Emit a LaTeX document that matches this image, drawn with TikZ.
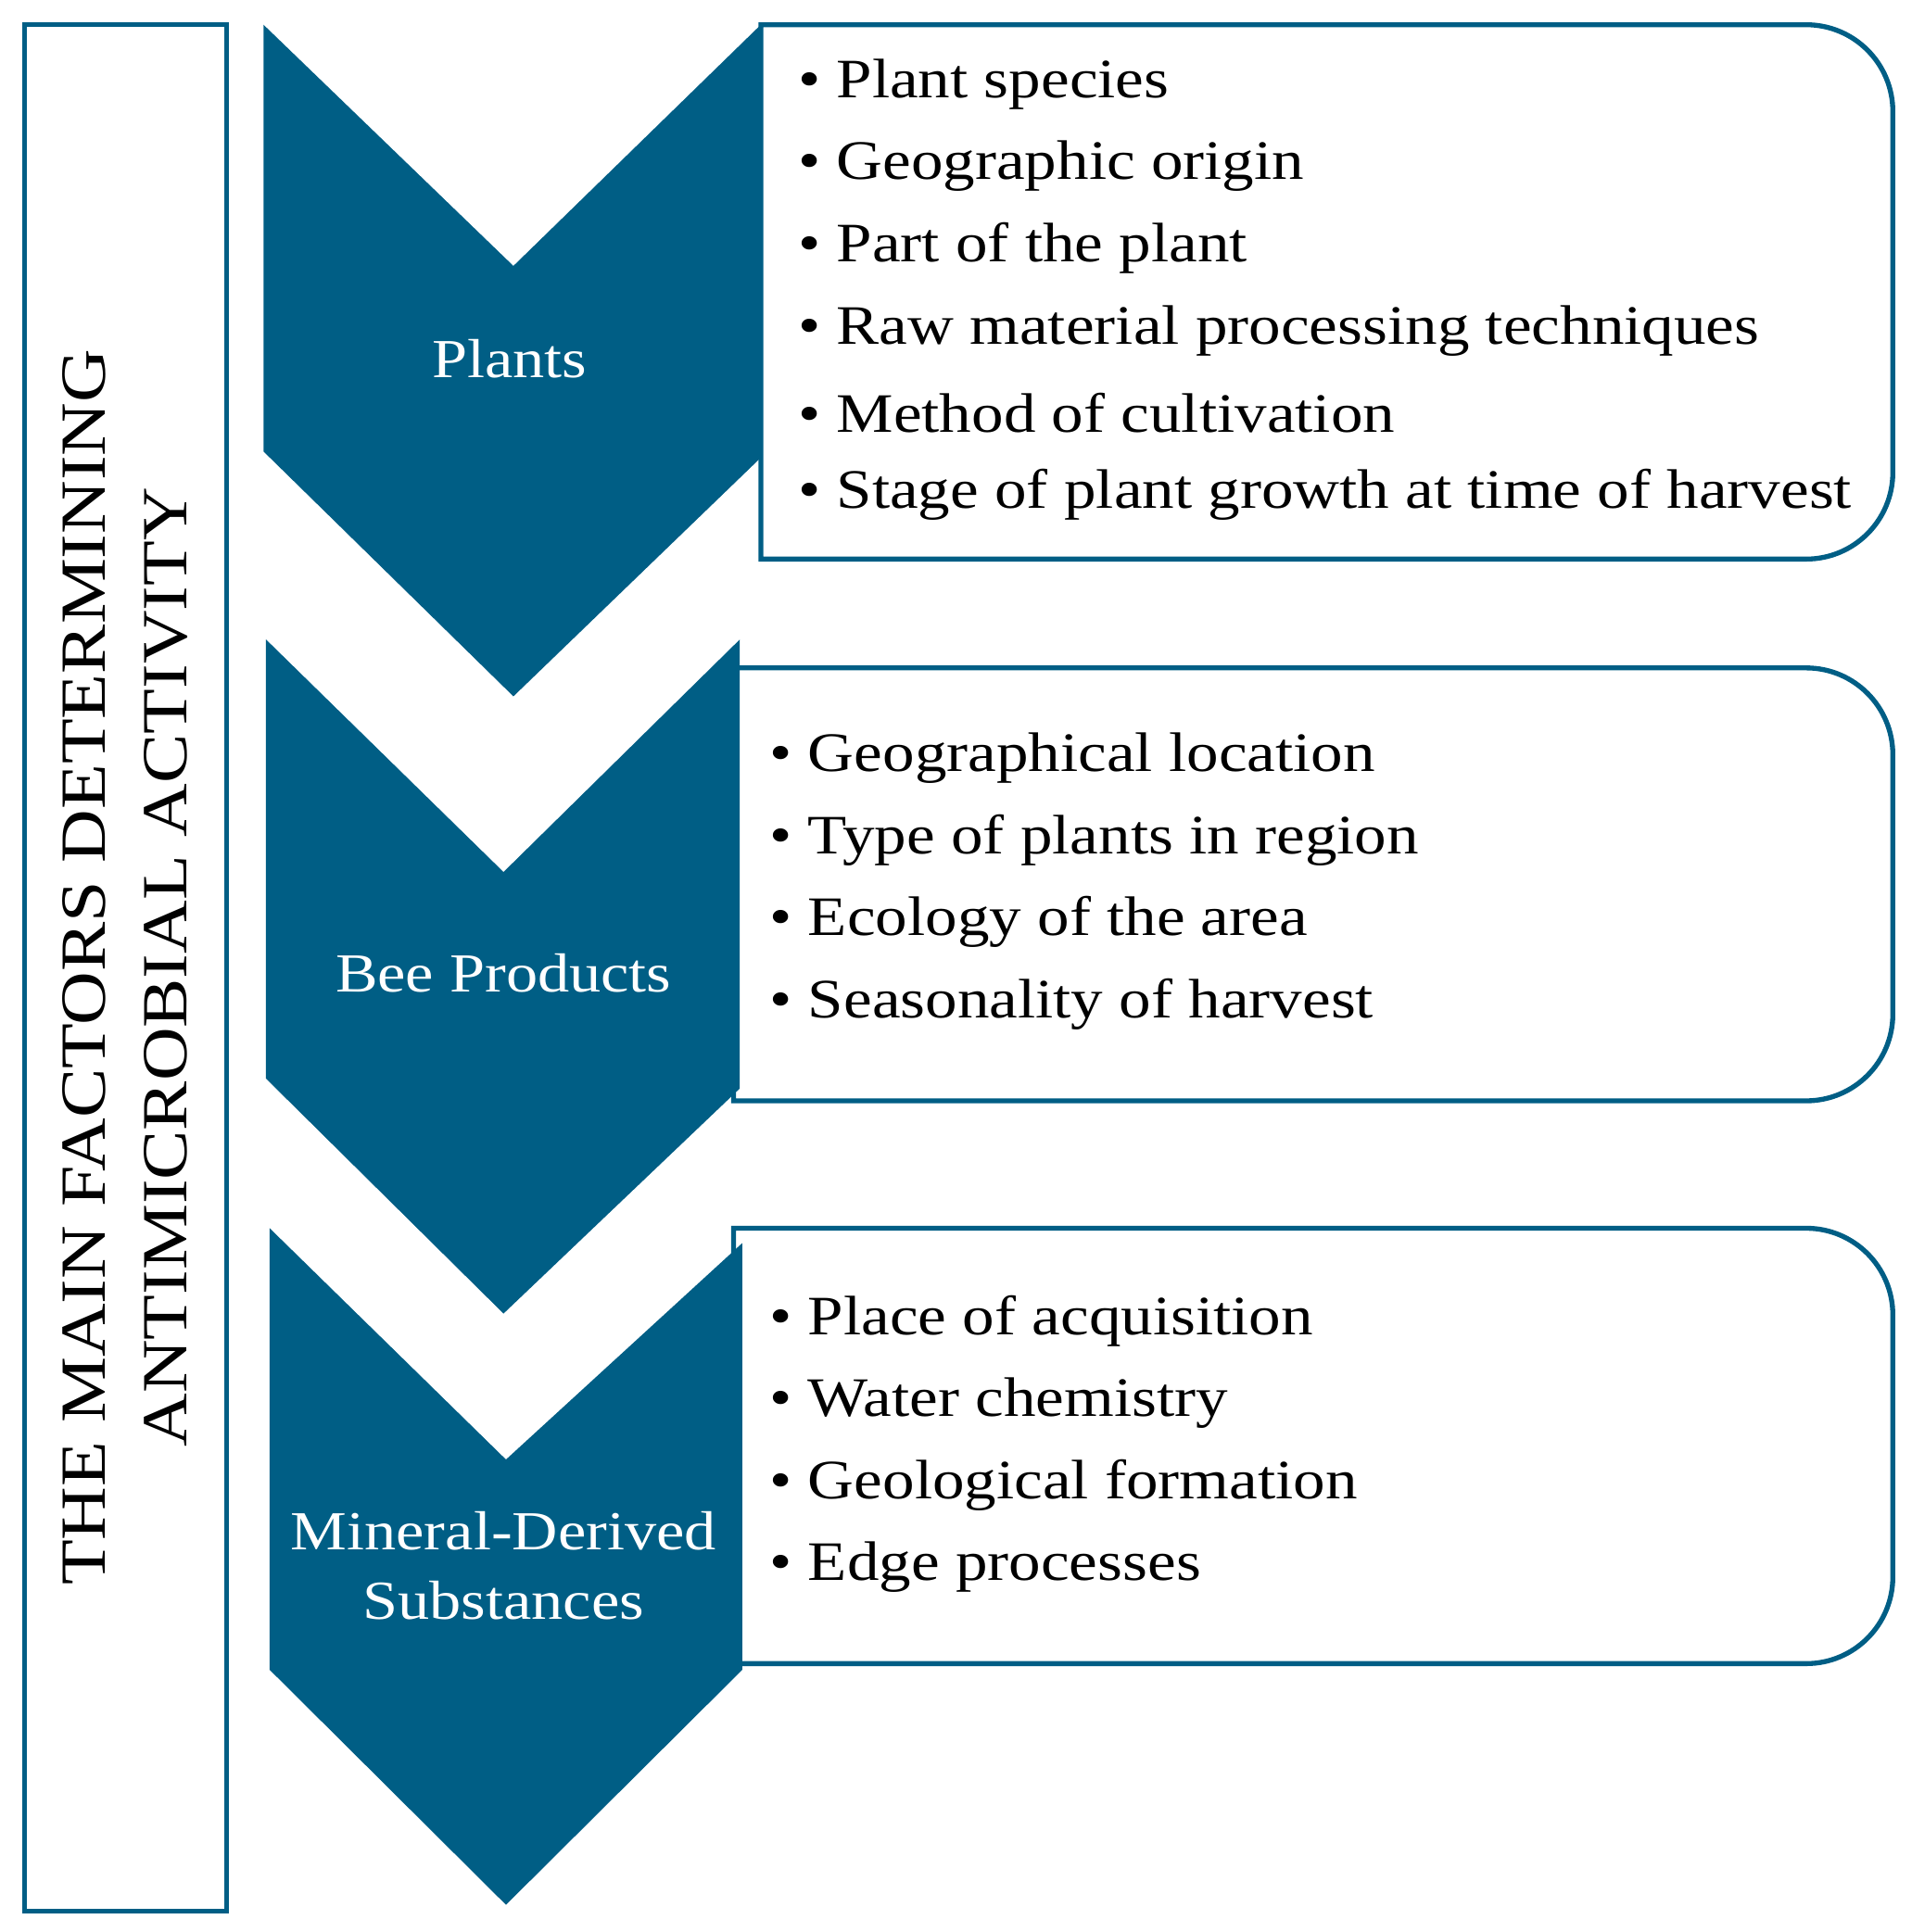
\documentclass[tikz,border=0pt]{standalone}
\usepackage{fontspec}
\setmainfont{Liberation Serif}[FakeStretch=1.15]
\definecolor{teal}{HTML}{005E85}
\begin{document}
\begin{tikzpicture}[x=1pt,y=-1pt,
 chev/.style={fill=teal,draw=none},
 box/.style={draw=teal,line width=4pt,fill=white},
 lab/.style={text=white,font=\fontsize{44.5}{56}\selectfont,align=center},
 item/.style={anchor=west,font=\fontsize{45}{52}\selectfont,inner sep=0pt}]
\useasboundingbox (0,0) rectangle (1545,1562);
\node[draw=teal,line width=4pt,minimum width=163pt,minimum height=1525pt,inner sep=0pt] (title) at (101.5,782.5) {};
\node[rotate=90,align=center,font=\fontsize{52}{66}\selectfont] (tt) at (101,782) {THE MAIN FACTORS DETERMINING\\ANTIMICROBIAL ACTIVITY};
% boxes
\draw[box] (615,20) -- (1460,20) arc[start angle=270,end angle=360,radius=70] -- (1530,382) arc[start angle=0,end angle=90,radius=70] -- (615,452) -- cycle;
\draw[box] (593,540) -- (1460,540) arc[start angle=270,end angle=360,radius=70] -- (1530,820) arc[start angle=0,end angle=90,radius=70] -- (593,890) -- cycle;
\draw[box] (593,993) -- (1460,993) arc[start angle=270,end angle=360,radius=70] -- (1530,1275) arc[start angle=0,end angle=90,radius=70] -- (593,1345) -- cycle;
% chevrons
\fill[chev] (213,20) -- (415,215) -- (615,20) -- (615,370) -- (415,563) -- (213,365) -- cycle;
\fill[chev] (215,517) -- (407,705) -- (598,517) -- (598,880) -- (407,1062) -- (215,872) -- cycle;
\fill[chev] (218,993) -- (409,1180) -- (600,1005) -- (600,1350) -- (409,1540) -- (218,1350) -- cycle;
\node[lab] (p) at (412,290) {Plants};
\node[lab] (b) at (407,787) {Bee Products};
\node[lab] (m) at (407,1266) {Mineral-Derived\\Substances};
% items
\foreach \t [count=\i] in {Plant species,Geographic origin,Part of the plant,Raw material processing techniques,Method of cultivation,Stage of plant growth at time of harvest}
  \node[item] (a\i) at (645,{68+66.4*(\i-1)}) {\textbullet\ \t};
\foreach \t [count=\i] in {Geographical location,Type of plants in region,Ecology of the area,Seasonality of harvest}
  \node[item] (c\i) at (622,{613+66.3*(\i-1)}) {\textbullet\ \t};
\foreach \t [count=\i] in {Place of acquisition,Water chemistry,Geological formation,Edge processes}
  \node[item] (d\i) at (622,{1068+66.3*(\i-1)}) {\textbullet\ \t};
\end{tikzpicture}
\end{document}
